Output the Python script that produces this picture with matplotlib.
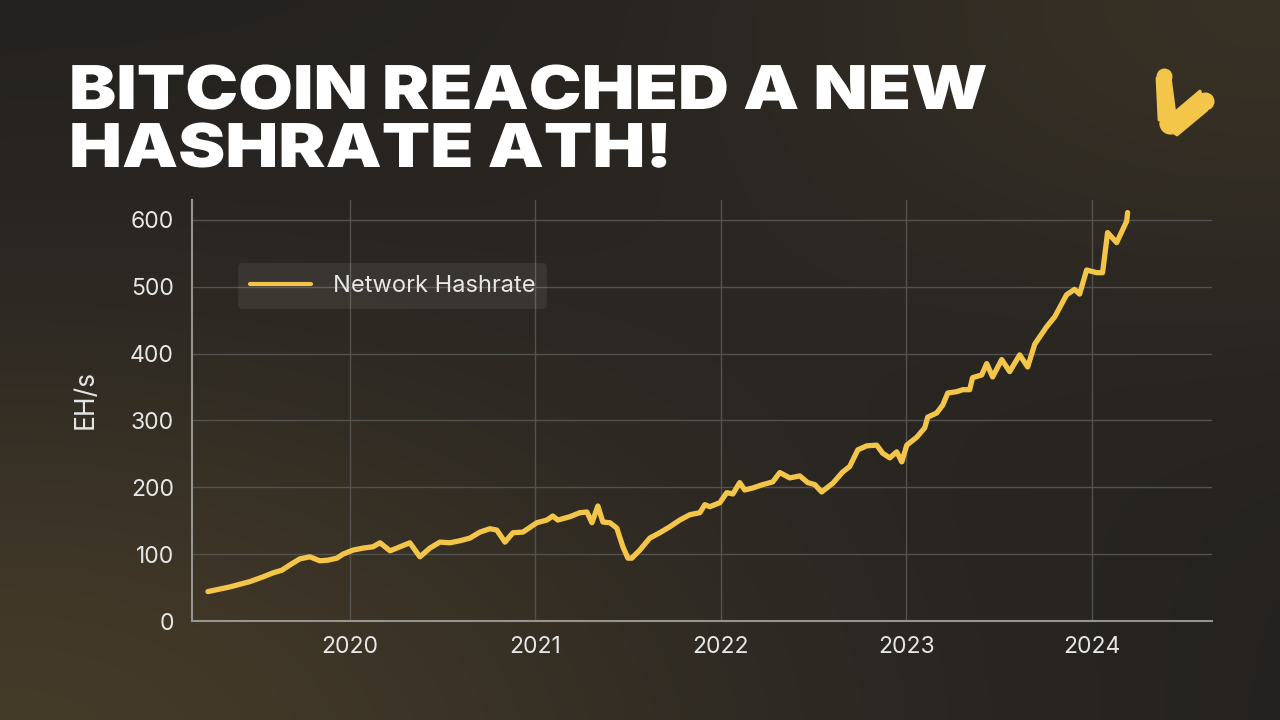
import matplotlib
matplotlib.use("Agg")
import matplotlib.pyplot as plt
from matplotlib.lines import Line2D
from matplotlib.patches import Polygon
from matplotlib.patheffects import AbstractPathEffect
from matplotlib.transforms import Affine2D
import numpy as np

plt.rcParams['font.family'] = ['Inter', 'DejaVu Sans']

# Bitcoin network hashrate (EH/s), decimal years
years = [2019.234, 2019.353, 2019.461, 2019.531, 2019.585, 2019.633, 2019.677, 2019.730,
         2019.784, 2019.838, 2019.881, 2019.930, 2019.962, 2020.016, 2020.070, 2020.124,
         2020.162, 2020.216, 2020.270, 2020.323, 2020.377, 2020.431, 2020.485, 2020.539,
         2020.593, 2020.647, 2020.701, 2020.755, 2020.792, 2020.836, 2020.879, 2020.933,
         2021.008, 2021.062, 2021.094, 2021.121, 2021.186, 2021.240, 2021.278, 2021.305,
         2021.337, 2021.364, 2021.402, 2021.439, 2021.472, 2021.499, 2021.520, 2021.563,
         2021.617, 2021.671, 2021.725, 2021.779, 2021.833, 2021.887, 2021.914, 2021.941,
         2021.995, 2022.032, 2022.065, 2022.102, 2022.129, 2022.173, 2022.226, 2022.280,
         2022.318, 2022.372, 2022.426, 2022.469, 2022.507, 2022.544, 2022.604, 2022.658,
         2022.695, 2022.739, 2022.787, 2022.841, 2022.873, 2022.911, 2022.949, 2022.976,
         2023.003, 2023.057, 2023.100, 2023.116, 2023.164, 2023.197, 2023.224, 2023.272,
         2023.305, 2023.342, 2023.358, 2023.407, 2023.434, 2023.466, 2023.515, 2023.558,
         2023.612, 2023.655, 2023.693, 2023.757, 2023.801, 2023.865, 2023.908, 2023.935,
         2023.973, 2024.027, 2024.059, 2024.086, 2024.135, 2024.167, 2024.189, 2024.194]
hashrate = [44, 51, 59, 66, 72, 76, 84, 93,
            96, 90, 91, 94, 100, 106, 109, 111,
            117, 105, 111, 117, 96, 109, 118, 117,
            120, 124, 133, 138, 136, 118, 132, 133,
            147, 151, 157, 151, 156, 162, 163, 147,
            172, 148, 147, 139, 111, 94, 94, 106,
            124, 132, 141, 151, 159, 162, 174, 171,
            177, 192, 190, 207, 196, 199, 204, 208,
            222, 214, 217, 207, 204, 193, 206, 223,
            231, 256, 262, 263, 251, 244, 253, 238,
            263, 275, 289, 305, 311, 323, 341, 343,
            346, 346, 364, 368, 385, 365, 391, 373,
            398, 380, 414, 440, 455, 488, 496, 489,
            525, 521, 521, 581, 566, 585, 598, 611]

year_ticks = [2020, 2021, 2022, 2023, 2024]
value_ticks = [0, 100, 200, 300, 400, 500, 600]

GOLD = "#f3c548"
TXT = "#e6e6e6"


class Stretch(AbstractPathEffect):
    # widen glyphs horizontally around x0 (display px), the title font is an extended one
    def __init__(self, sx, x0):
        super().__init__()
        self.sx = sx
        self.x0 = x0

    def draw_path(self, renderer, gc, tpath, affine, rgbFace=None):
        t = affine + Affine2D().translate(-self.x0, 0).scale(self.sx, 1).translate(self.x0, 0)
        renderer.draw_path(gc, tpath, t, rgbFace)


fig = plt.figure(figsize=(12.8, 7.2), dpi=100)

# background with warm glow bottom-left and top-right
bg = fig.add_axes([0, 0, 1, 1])
h, w = 360, 640
yy, xx = np.mgrid[0:h, 0:w]
xx = xx / w
yy = yy / h  # 0 top, 1 bottom
base = np.array([0.135, 0.128, 0.125])
warm = np.array([0.27, 0.23, 0.16])
g1 = np.exp(-(((xx - 0.0) / 0.6) ** 2 + ((yy - 1.05) / 0.6) ** 2))
g2 = np.exp(-(((xx - 1.0) / 0.45) ** 2 + ((yy - 0.0) / 0.45) ** 2)) * 0.6
g = np.clip(g1 + g2, 0, 1)[..., None]
img = base * (1 - g) + warm * g
bg.imshow(img, extent=[0, 1, 0, 1], aspect="auto", zorder=-10)
bg.set_xlim(0, 1)
bg.set_ylim(0, 1)
bg.axis("off")

ax = fig.add_axes([0.15, 0.1375, 0.797, 0.585])
ax.patch.set_alpha(0)
ax.plot(years, hashrate, color=GOLD, lw=3.8, solid_joinstyle="round",
        solid_capstyle="round", label="Network Hashrate", zorder=3)

ax.set_xlim(2019.148, 2024.65)
ax.set_ylim(0, 630)
ax.set_xticks(year_ticks)
ax.set_xticklabels([str(y) for y in year_ticks])
ax.set_yticks(value_ticks)
ax.grid(True, color="#54524f", lw=1)
ax.tick_params(length=0, labelsize=16.5, colors=TXT)
ax.tick_params(axis="y", pad=13)
ax.tick_params(axis="x", pad=11)
for s in ["top", "right"]:
    ax.spines[s].set_visible(False)
for s in ["left", "bottom"]:
    ax.spines[s].set_color("#96948f")
    ax.spines[s].set_linewidth(1.5)
ax.set_ylabel("EH/s", fontsize=19, color=TXT)
ax.yaxis.set_label_coords(-0.092, 0.527)

leg = ax.legend(loc="upper left", bbox_to_anchor=(0.045, 0.850), fontsize=17,
                frameon=True, fancybox=True, handlelength=2.6, handletextpad=0.93,
                borderpad=0.5, borderaxespad=0, labelcolor=TXT)
frame = leg.get_frame()
frame.set_facecolor("#ffffff")
frame.set_alpha(0.07)
frame.set_edgecolor("none")
leg.get_lines()[0].set_linewidth(3)

fig.text(69 / 1280, 1 - 64 / 720, "BITCOIN REACHED A NEW\nHASHRATE ATH!",
         ha="left", va="top", color="white", fontsize=43.5, fontweight="black",
         linespacing=1.0, path_effects=[Stretch(1.17, 69)])


# logo mark, top right (pixel coords -> figure fraction)
def fp(px, py):
    return (px / 1280, 1 - py / 720)


arms = [[(1157, 78), (1170, 76), (1175, 114), (1159, 120)],
        [(1161, 124), (1177, 135), (1207, 110), (1200, 91)]]
for pts in arms:
    fig.add_artist(Polygon([fp(*p) for p in pts], closed=True, facecolor=GOLD,
                           edgecolor=GOLD, lw=2, joinstyle="round",
                           transform=fig.transFigure))
for (cx, cy), ms in [((1164, 76), 11.5), ((1170, 123), 16), ((1205, 101), 13)]:
    fig.add_artist(Line2D([cx / 1280], [1 - cy / 720], marker="o", ms=ms, color=GOLD,
                          markeredgewidth=0, transform=fig.transFigure))

fig.savefig("out.png", dpi=100)
